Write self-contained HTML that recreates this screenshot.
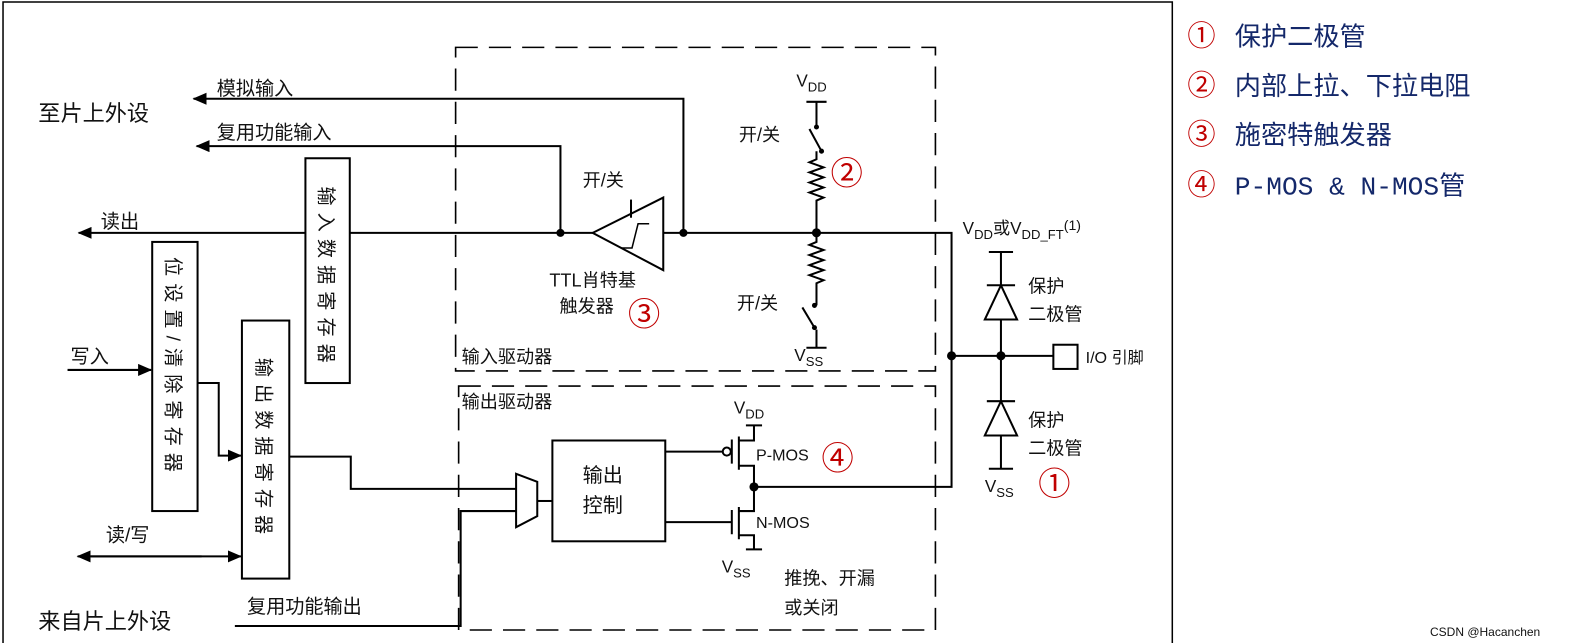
<!DOCTYPE html>
<html><head><meta charset="utf-8"><style>
html,body{margin:0;padding:0;background:#fff;}
svg{display:block;}
text{font-family:"Liberation Sans","Noto Sans CJK SC",sans-serif;fill:#111;}
.r{fill:#c00000;}
.lg{fill:#14286a;font-size:26px;}
</style></head><body>
<svg width="1581" height="643" viewBox="0 0 1581 643" xmlns="http://www.w3.org/2000/svg">
<defs>
<marker id="a" markerWidth="14" markerHeight="12" refX="13" refY="6" orient="auto" markerUnits="userSpaceOnUse"><path d="M0,0 L14,6 L0,12 Z" fill="#000"/></marker>
</defs>
<g transform="scale(1.008)" stroke="#000" stroke-width="2" fill="none">
<path d="M3,650 L3,2 L1163,2 L1163,650" stroke-width="1.5"/>
<rect x="452" y="47" width="476" height="321" stroke-dasharray="22,11" stroke-width="1.6"/>
<rect x="455" y="383" width="473" height="242" stroke-dasharray="22,11" stroke-width="1.6"/>
<path d="M347,231 L944,231 L944,483 L748,483"/>
<path d="M303,231 L78,231" marker-end="url(#a)"/>
<path d="M678,231 L678,98 L192,98" marker-end="url(#a)"/>
<path d="M556,231 L556,145 L195,145" marker-end="url(#a)"/>
<rect x="303" y="157" width="44" height="223" fill="#fff"/>
<path d="M588,231 L658,196 L658,268 Z" fill="#fff"/>
<path d="M626,198 L626,216" />
<path d="M616,246 L627,246 L633,222 L644,222" stroke-width="1.5"/>
<path d="M800,101 L820,101 M810,101 L810,126"/>
<path d="M803,128 L815,150"/>
<path d="M810,150 L810,158 L803,161 L817,166 L803,171 L817,176 L803,181 L817,186 L803,191 L817,196 L810,199 L810,231"/>
<path d="M810,231 L810,240 L803,243 L817,248 L803,253 L817,258 L803,263 L817,268 L803,273 L817,278 L810,281 L810,303"/>
<path d="M796,305 L808,325 M810,327 L810,345 M800,345 L820,345"/>
<path d="M993,250 L993,465 M981,250 L1005,250 M979,283 L1007,283 M979,398 L1007,398 M981,465 L1005,465"/>
<path d="M993,283 L977,317 L1009,317 Z M993,398 L977,432 L1009,432 Z" fill="#fff"/>
<path d="M944,353 L1045,353"/>
<rect x="1045" y="342" width="24" height="24" fill="#fff"/>
<rect x="151" y="240" width="45" height="267" fill="#fff"/>
<rect x="240" y="318" width="47" height="256" fill="#fff"/>
<path d="M67,367 L150,367" marker-end="url(#a)"/>
<path d="M196,380 L217,380 L217,452 L239,452" marker-end="url(#a)"/>
<path d="M90,552 L239,552" marker-end="url(#a)"/>
<path d="M200,552 L77,552" marker-end="url(#a)"/>
<path d="M287,453 L348,453 L348,485 L512,485"/>
<path d="M233,621 L457,621 L457,507 L512,507"/>
<path d="M512,470 L533,478 L533,512 L512,523 Z" fill="#fff"/>
<path d="M533,497 L548,497"/>
<rect x="548" y="437" width="112" height="100" fill="#fff"/>
<path d="M660,448 L717,448"/>
<circle cx="721" cy="448" r="4" fill="#fff"/>
<path d="M726,436 L726,460 M733,433 L733,466 M733,437 L748,437 L748,422 M740,422 L756,422 M733,462 L748,462 L748,483"/>
<path d="M660,518 L726,518 M726,506 L726,530 M733,503 L733,535 M733,507 L748,507 L748,483 M733,531 L748,531 L748,545 M740,545 L756,545"/>
<g fill="#000" stroke="none">
<circle cx="556" cy="231" r="4"/><circle cx="678" cy="231" r="4"/><circle cx="810" cy="231" r="4.5"/>
<circle cx="944" cy="353" r="4.5"/><circle cx="993" cy="353" r="4.5"/><circle cx="748" cy="483" r="4.5"/>
<circle cx="810" cy="126" r="2.5"/><circle cx="815" cy="150" r="2.5"/><circle cx="808" cy="303" r="2.5"/><circle cx="808" cy="325" r="2.5"/>
</g>
<g stroke="none" fill="#111">
<text x="38" y="120" font-size="22">至片上外设</text>
<text x="215" y="94" font-size="19">模拟输入</text>
<text x="215" y="138" font-size="19">复用功能输入</text>
<text x="100" y="226" font-size="19">读出</text>
<text x="70" y="360" font-size="19">写入</text>
<text x="105" y="537" font-size="19">读/写</text>
<text x="38" y="624" font-size="22">来自片上外设</text>
<text x="245" y="608" font-size="19">复用功能输出</text>
<text x="458" y="360" font-size="18">输入驱动器</text>
<text x="458" y="405" font-size="18">输出驱动器</text>
<text x="578" y="185" font-size="18">开/关</text>
<text x="545" y="284" font-size="18">TTL肖特基</text>
<text x="555" y="310" font-size="18">触发器</text>
<text x="733" y="140" font-size="18">开/关</text>
<text x="731" y="307" font-size="18">开/关</text>
<text x="790" y="86" font-size="17">V<tspan font-size="13" dy="5">DD</tspan></text>
<text x="788" y="358" font-size="17">V<tspan font-size="13" dy="5">SS</tspan></text>
<text x="955" y="232" font-size="17">V<tspan font-size="13" dy="5">DD</tspan><tspan dy="-5">或V</tspan><tspan font-size="13" dy="5">DD_FT</tspan><tspan font-size="14" dy="-9">(1)</tspan></text>
<text x="1020" y="290" font-size="18">保护</text>
<text x="1020" y="318" font-size="18">二极管</text>
<text x="1020" y="423" font-size="18">保护</text>
<text x="1020" y="451" font-size="18">二极管</text>
<text x="977" y="488" font-size="17">V<tspan font-size="13" dy="5">SS</tspan></text>
<text x="1077" y="360" font-size="16">I/O 引脚</text>
<text x="728" y="410" font-size="17">V<tspan font-size="13" dy="5">DD</tspan></text>
<text x="716" y="568" font-size="17">V<tspan font-size="13" dy="5">SS</tspan></text>
<text x="750" y="457" font-size="16">P-MOS</text>
<text x="750" y="524" font-size="16">N-MOS</text>
<text x="578" y="478" font-size="20">输出</text>
<text x="578" y="508" font-size="20">控制</text>
<text x="778" y="580" font-size="18">推挽、开漏</text>
<text x="778" y="609" font-size="18">或关闭</text>
<text transform="translate(317,185) rotate(90)" font-size="19" letter-spacing="7">输入数据寄存器</text>
<text transform="translate(165,255) rotate(90)" font-size="19" letter-spacing="7">位设置/清除寄存器</text>
<text transform="translate(255,355) rotate(90)" font-size="19" letter-spacing="7">输出数据寄存器</text>
<text class="r" x="623" y="323" font-size="32">③</text>
<text class="r" x="824" y="183" font-size="32">②</text>
<text class="r" x="815" y="466" font-size="32">④</text>
<text class="r" x="1030" y="491" font-size="32">①</text>
</g>
<g stroke="none">
<text class="r" x="1178" y="45" font-size="28">①</text><text class="lg" x="1225" y="45">保护二极管</text>
<text class="r" x="1178" y="94" font-size="28">②</text><text class="lg" x="1225" y="94">内部上拉、下拉电阻</text>
<text class="r" x="1178" y="143" font-size="28">③</text><text class="lg" x="1225" y="143">施密特触发器</text>
<text class="r" x="1178" y="193" font-size="28">④</text><text class="lg" x="1225" y="193" style="font-family:'Liberation Mono','Noto Sans CJK SC',monospace">P-MOS &amp; N-MOS管</text>
</g>
</g>
<text x="1430" y="636" font-size="12" fill="#999">CSDN @Hacanchen</text>
</svg>
</body></html>
